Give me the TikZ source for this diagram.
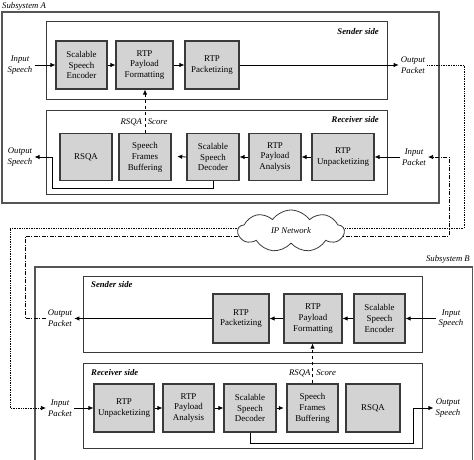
\documentclass[tikz,border=0pt]{standalone}
\usepackage{fontspec}
\setmainfont{Liberation Serif}
\usepackage{tikz}
\usetikzlibrary{arrows.meta, shapes.symbols}
\definecolor{relleno}{HTML}{D3D3D3}
\definecolor{borde}{HTML}{3A3A3A}
\definecolor{marco}{HTML}{555555}
\definecolor{grupo}{HTML}{9A9A9A}
\tikzset{
  every picture/.style={>={Latex[length=5pt,width=4.5pt]}},
  bloque/.style={draw=borde, fill=relleno, line width=1.1pt, minimum height=48pt, align=center,
              inner sep=1pt, font=\fontsize{8.9}{10.9}\selectfont},
  etiq/.style={font=\fontsize{8.7}{10.8}\selectfont\itshape, align=center, inner sep=2pt},
  lado/.style={font=\fontsize{8.7}{10.8}\selectfont\bfseries\itshape, inner sep=0pt},
  caja/.style={draw=borde, line width=0.8pt},
  sistema/.style={draw=marco, line width=1.4pt},
  grupob/.style={draw=grupo, double=white, double distance=1.2pt, line width=0.5pt},
  flecha/.style={->, line width=0.8pt},
  flechad/.style={->, line width=0.8pt, dashed},
  punteada/.style={->, line width=0.7pt, densely dotted},
  rayapunto/.style={->, line width=0.7pt, dash pattern=on 4pt off 1.5pt on 1pt off 1.5pt},
}

\begin{document}
\begin{tikzpicture}[x=1pt, y=-1pt]
  \useasboundingbox (0,0) rectangle (474,460);
  % subsistema A
  \draw[sistema] (2,12) rectangle (439,203);
  \node[etiq, anchor=west, inner sep=0pt] (tA) at (2,6) {Subsystem A};
  \draw[caja] (46,21) rectangle (387,99);
  \draw[caja] (46,110) rectangle (387,194);
  \node[lado, anchor=east] (envA) at (379,32) {Sender side};
  \node[lado, anchor=east] (recA) at (379,120) {Receiver side};
  \node[bloque, minimum width=51] (encA) at (81.5,65) {Scalable\\Speech\\Encoder};
  \node[bloque, minimum width=57] (fmtA) at (144.5,65) {RTP\\Payload\\Formatting};
  \node[bloque, minimum width=54] (pktA) at (212,65) {RTP\\Packetizing};
  \node[grupob, minimum width=122, minimum height=55] (grpA) at (116,156.5) {};
  \node[bloque, minimum width=52, minimum height=47] (rsqaA) at (86,157) {RSQA};
  \node[bloque, minimum width=52, minimum height=47] (bufA) at (145,157) {Speech\\Frames\\Buffering};
  \node[bloque, minimum width=52, minimum height=47] (decA) at (213,157) {Scalable\\Speech\\Decoder};
  \node[bloque, minimum width=52, minimum height=47] (anaA) at (275,157) {RTP\\Payload\\Analysis};
  \node[bloque, minimum width=62, minimum height=47] (unpA) at (343,157) {RTP\\Unpacketizing};
  \node[etiq] (inSpA) at (20,65) {Input\\Speech};
  \node[etiq] (outPkA) at (413,65) {Output\\Packet};
  \node[etiq] (outSpA) at (20,157) {Output\\Speech};
  \node[etiq] (inPkA) at (414,157) {Input\\Packet};
  \node[etiq, inner sep=0pt] (scA) at (144,122) {RSQA\hspace{6pt}Score};
  \coordinate (esqA) at (52,188);
  \draw[flecha] (inSpA.east) -- (encA); \draw[flecha] (encA) -- (fmtA); \draw[flecha] (fmtA) -- (pktA);
  \draw[flecha] (pktA) -- (outPkA.west);
  \draw[flecha] (inPkA.west) -- (unpA); \draw[flecha] (unpA) -- (anaA); \draw[flecha] (anaA) -- (decA);
  \draw[flecha] (decA.west) -- (grpA.east);
  \draw[flecha] (decA.south) |- (esqA) |- (outSpA.east);
  \draw[flechad] (bufA.north) -- (bufA.north |- fmtA.south);
  % subsistema B
  \draw[sistema] (35,267) rectangle (472.5,470);
  \node[etiq, anchor=east, inner sep=0pt] (tB) at (470,259) {Subsystem B};
  \draw[caja] (83,276) rectangle (422,352);
  \draw[caja] (83,363) rectangle (422,448);
  \node[lado, anchor=west] (envB) at (91,285) {Sender side};
  \node[lado, anchor=west] (recB) at (91,373) {Receiver side};
  \node[bloque, minimum width=56, minimum height=49] (pktB) at (241,318.5) {RTP\\Packetizing};
  \node[bloque, minimum width=58, minimum height=49] (fmtB) at (313,318.5) {RTP\\Payload\\Formatting};
  \node[bloque, minimum width=51, minimum height=49] (encB) at (379.5,318.5) {Scalable\\Speech\\Encoder};
  \node[grupob, minimum width=122, minimum height=56] (grpB) at (345,408) {};
  \node[bloque, minimum width=60] (unpB) at (124,408) {RTP\\Unpacketizing};
  \node[bloque, minimum width=51] (anaB) at (188.5,408) {RTP\\Payload\\Analysis};
  \node[bloque, minimum width=52] (decB) at (250,408) {Scalable\\Speech\\Decoder};
  \node[bloque, minimum width=51] (bufB) at (312.5,408) {Speech\\Frames\\Buffering};
  \node[bloque, minimum width=54] (rsqaB) at (373,408) {RSQA};
  \node[etiq] (outPkB) at (60,318.5) {Output\\Packet};
  \node[etiq] (inSpB) at (451,318.5) {Input\\Speech};
  \node[etiq] (inPkB) at (60,408) {Input\\Packet};
  \node[etiq] (outSpB) at (448,408) {Output\\Speech};
  \node[etiq, inner sep=0pt] (scB) at (312.5,373) {RSQA\hspace{6pt}Score};
  \coordinate (esqB) at (413,443);
  \draw[flecha] (inSpB.west) -- (encB); \draw[flecha] (encB) -- (fmtB); \draw[flecha] (fmtB) -- (pktB);
  \draw[flecha] (pktB) -- (outPkB.east);
  \draw[flecha] (inPkB.east) -- (unpB); \draw[flecha] (unpB) -- (anaB); \draw[flecha] (anaB) -- (decB);
  \draw[flecha] (decB.east) -- (grpB.west);
  \draw[flecha] (decB.south) |- (esqB) |- (outSpB.west);
  \draw[flechad] (bufB.north) -- (bufB.north |- fmtB.south);
  % red IP
  \coordinate (pA1) at (464,228); \coordinate (pA2) at (10,228);
  \coordinate (pB1) at (25,236); \coordinate (pB2) at (449,236);
  \draw[punteada] (outPkA.east) -| (pA1) -- (pA2) |- (inPkB.west);
  \draw[rayapunto] (outPkB.west) -| (pB1) -- (pB2) |- (inPkA.east);
  \node[draw=borde, fill=white, line width=0.8pt, cloud, cloud puffs=9, cloud puff arc=110, aspect=3,
        minimum width=106, minimum height=42, inner sep=0pt, etiq] (red) at (291,231) {IP Network};
\end{tikzpicture}
\end{document}
